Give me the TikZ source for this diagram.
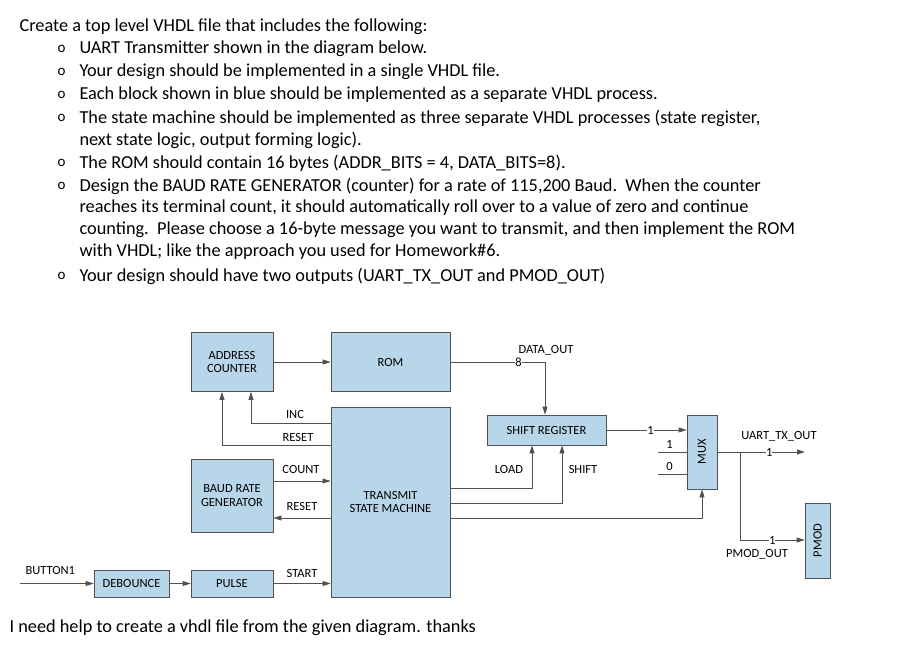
\documentclass[tikz,border=0pt]{standalone}
\usepackage{fontspec}
\setmainfont{Carlito}
\usetikzlibrary{arrows.meta}
\definecolor{blockblue}{RGB}{184,214,234}
\definecolor{edge}{RGB}{80,80,80}
\tikzset{
  blk/.style={draw=edge, fill=blockblue, thick, font=\fontsize{12.5}{13.5}\selectfont, align=center, inner sep=0pt},
  wire/.style={draw=edge, thick, -{Triangle[length=8pt,width=5pt]}},
  line/.style={draw=edge, thick},
  sig/.style={font=\fontsize{12.5}{13.5}\selectfont},
  txt/.style={anchor=west, font=\fontsize{18.3}{20}\selectfont}
}
\newcommand{\bullitem}[2]{\node[anchor=west, font=\fontsize{15}{16}\selectfont] at (54,#1) {o};
  \node[txt] at (76,#1) {#2};}
\begin{document}
\begin{tikzpicture}[x=1pt, y=-1pt]
\useasboundingbox (0,0) rectangle (901,652);

% Task text
\node[txt] at (16,27) {Create a top level VHDL file that includes the following:};
\bullitem{49}{UART Transmitter shown in the diagram below.}
\bullitem{72}{Your design should be implemented in a single VHDL file.}
\bullitem{95}{Each block shown in blue should be implemented as a separate VHDL process.}
\bullitem{118}{The state machine should be implemented as three separate VHDL processes (state register,}
\node[txt] at (76,140) {next state logic, output forming logic).};
\bullitem{163}{The ROM should contain 16 bytes (ADDR\_BITS = 4, DATA\_BITS=8).}
\bullitem{186}{Design the BAUD RATE GENERATOR (counter) for a rate of 115,200 Baud.\ \ When the counter}
\node[txt] at (76,208) {reaches its terminal count, it should automatically roll over to a value of zero and continue};
\node[txt] at (76,230) {counting.\ \ Please choose a 16-byte message you want to transmit, and then implement the ROM};
\node[txt] at (76,252) {with VHDL; like the approach you used for Homework\#6.};
\bullitem{276}{Your design should have two outputs (UART\_TX\_OUT and PMOD\_OUT)};

% Blocks
\node[blk, minimum width=82pt, minimum height=59pt] (addr) at (232,362) {ADDRESS\\COUNTER};
\node[blk, minimum width=119pt, minimum height=59pt] (rom) at (390.5,362) {ROM};
\node[blk, minimum width=119pt, minimum height=190pt] (fsm) at (390.5,502) {TRANSMIT\\STATE MACHINE};
\node[blk, minimum width=82pt, minimum height=73pt] (baud) at (232,495.5) {BAUD RATE\\GENERATOR};
\node[blk, minimum width=75pt, minimum height=27pt] (deb) at (131.5,583.5) {DEBOUNCE};
\node[blk, minimum width=82pt, minimum height=27pt] (pulse) at (232,583.5) {PULSE};
\node[blk, minimum width=119pt, minimum height=30pt] (sreg) at (546.5,430) {SHIFT REGISTER};
\node[blk, minimum width=30pt, minimum height=74pt] (mux) at (702,452) {\rotatebox{90}{MUX}};
\node[blk, minimum width=25pt, minimum height=75pt] (pmod) at (817.5,540.5) {\rotatebox{90}{PMOD}};
\coordinate (btn) at (20,583.5);
\coordinate (split) at (740,452);
\coordinate (txout) at (805,452);

% Address / ROM / shift register
\draw[wire] (addr) -- (rom);
\draw[wire] (rom.east) -| node[pos=0.36, sig, fill=white, inner sep=0pt] {8} (sreg.north -| 545,0);
\node[sig] at (546,350) {DATA\_OUT};
\draw[wire] (fsm.west |- 0,423) -| (addr.south -| 251,0);
\draw[wire] (fsm.west |- 0,445) -| (addr.south -| 222,0);
\node[sig] at (295,414) {INC};
\node[sig] at (298,437) {RESET};

% Baud rate generator
\draw[wire] (baud.east |- 0,481) -- (fsm.west |- 0,481);
\draw[wire] (fsm.west |- 0,518) -- (baud.east |- 0,518);
\node[sig] at (301,469) {COUNT};
\node[sig] at (302,506) {RESET};

% Button chain
\node[sig, anchor=south west] at (22,578) {BUTTON1};
\draw[wire] (btn) -- (deb);
\draw[wire] (deb) -- (pulse);
\draw[wire] (pulse.east) -- (fsm.west |- pulse.east);
\node[sig] at (302,573) {START};

% Control outputs of the state machine
\draw[wire] (fsm.east |- 0,488) -| (sreg.south -| 532,0);
\draw[wire] (fsm.east |- 0,503) -| (sreg.south -| 562,0);
\draw[wire] (fsm.east |- 0,518) -| (mux.south);
\node[sig] at (509,469) {LOAD};
\node[sig] at (583,469) {SHIFT};

% MUX
\draw[wire] (sreg.east) -- node[pos=0.55, sig, fill=white, inner sep=0pt] {1} (mux.west |- sreg.east);
\draw[line] (658,452) -- (mux.west |- 0,452) node[sig, pos=0.4, above] {1};
\draw[line] (658,474) -- (mux.west |- 0,474) node[sig, pos=0.4, above] {0};
\draw[line] (mux.east |- split) -- (split);
\draw[wire] (split) -- node[pos=0.45, sig, fill=white, inner sep=0pt] {1} (txout);
\node[sig] at (779,436) {UART\_TX\_OUT};
\draw[wire] (split) |- node[pos=0.75, sig, fill=white, inner sep=0pt] {1} (pmod.west |- 0,540);
\node[sig] at (757,554) {PMOD\_OUT};

% Footer
\node[txt] at (6,628) {I need help to create a vhdl file from the given diagram. thanks};
\end{tikzpicture}
\end{document}
